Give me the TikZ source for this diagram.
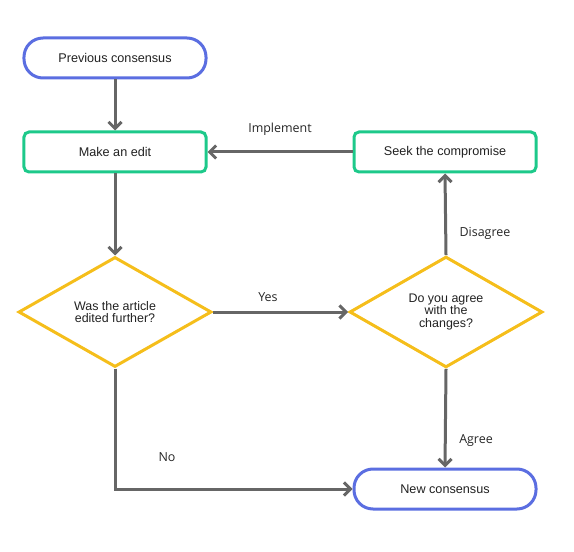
\documentclass[tikz,border=0pt]{standalone}
\usepackage{fontspec}
\setmainfont{Liberation Sans}
\newfontfamily\lblfont{Open Sans}
\usetikzlibrary{shapes.geometric,arrows.meta}
\definecolor{termblue}{HTML}{5B6EE1}
\definecolor{actgreen}{HTML}{1DC98A}
\definecolor{decyellow}{HTML}{F5BE1B}
\definecolor{flowgray}{HTML}{666666}
\tikzset{
  term/.style={draw=termblue,line width=3bp,rounded corners=19bp,
    minimum width=182bp,minimum height=40bp,text=black!87,
    font=\fontsize{12.7}{14}\selectfont},
  act/.style={term,draw=actgreen,rounded corners=5bp},
  dec/.style={diamond,draw=decyellow,line width=3bp,inner sep=0pt,
    minimum width=193bp,minimum height=110bp,align=center,text=black!87,
    font=\fontsize{12.5}{12.5}\selectfont},
  flow/.style={draw=flowgray,line width=3bp,
    -{Straight Barb[length=6.5bp,width=13bp,line width=3bp]}},
  lbl/.style={text=black!85,font=\lblfont\fontsize{12.5}{14}\selectfont}
}
\begin{document}
\begin{tikzpicture}[x=1bp,y=-1bp]
  \useasboundingbox (0,0) rectangle (574,552);
  \node[term](prev) at (115,58){Previous consensus};
  \node[act](edit) at (115,152){Make an edit};
  \node[act](seek) at (445,152){Seek the compromise};
  \node[dec](q1) at (115,312){Was the article\\edited further?};
  \node[dec](q2) at (446,312){Do you agree\\with the\\changes?};
  \node[term](new) at (445,489){New consensus};
  \node[lbl](impl) at (280,129){Implement};
  \node[lbl](yes) at (268,297){Yes};
  \node[lbl](dis) at (485,233){Disagree};
  \node[lbl](agr) at (476,441){Agree};
  \node[lbl](no) at (167,457){No};
  \draw[flow] (prev)--(edit);
  \draw[flow] (edit)--(q1);
  \draw[flow] (q1.east)--(q2.west);
  \draw[flow] (q2.north)--(seek.south);
  \draw[flow] (seek.west)--(edit.east);
  \draw[flow] (q2.south)--(new.north);
  \draw[flow] (q1.south)|-(new.west);
\end{tikzpicture}
\end{document}
